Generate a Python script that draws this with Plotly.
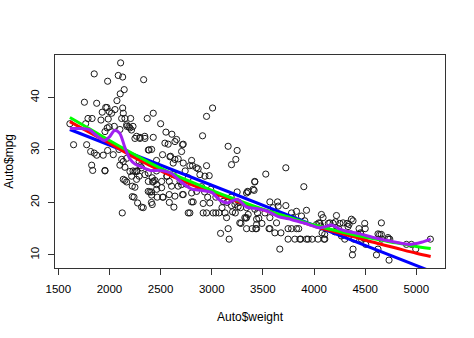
import plotly.graph_objects as go

# ---- scatter data (Auto$weight, Auto$mpg) ----
weight = [
    1613, 1649, 1755, 1767, 1777, 1790, 1830, 1816, 1851, 1875,
    1826, 1836, 1851, 1875, 1917, 1929, 1939, 1956, 1956, 1956,
    1963, 1975, 1982, 1988, 1982, 1978, 1998, 1998, 2021, 2037,
    2047, 2054, 2073, 2086, 2093, 2102, 2102, 2105, 2109, 2119,
    2119, 2125, 2129, 2129, 2135, 2135, 2135, 2144, 2151, 2151,
    2151, 2168, 2168, 2168, 2170, 2190, 2200, 2200, 2207, 2215,
    2217, 2223, 2223, 2230, 2249, 2249, 2249, 2265, 2265, 2268,
    2275, 2298, 2298, 2314, 2314, 2330, 2334, 2345, 2347, 2347,
    2369, 2379, 2379, 2380, 2387, 2395, 2412, 2412, 2412, 2418,
    2418, 2422, 2428, 2428, 2461, 2461, 2467, 2500, 2510, 2519,
    2525, 2542, 2552, 2563, 2574, 2584, 2591, 2607, 2610, 2623,
    2630, 2640, 2640, 2640, 2656, 2672, 2672, 2705, 2705, 2721,
    2721, 2721, 2770, 2770, 2786, 2786, 2803, 2803, 2803, 2818,
    2852, 2867, 2884, 2910, 2916, 2916, 2933, 2949, 2949, 2949,
    2975, 2981, 3008, 3014, 3040, 3086, 3111, 3145, 3160, 3160,
    3170, 3193, 3193, 3203, 3226, 3235, 3248, 3248, 3258, 3274,
    3281, 3323, 3340, 3340, 3340, 3340, 3350, 3356, 3395, 3414,
    3421, 3421, 3438, 3438, 3438, 3447, 3528, 3568, 3568, 3568,
    3617, 3633, 3643, 3649, 3665, 3676, 3724, 3724, 3746, 3746,
    3780, 3780, 3795, 3812, 3828, 3828, 3861, 3877, 3900, 3909,
    3926, 3926, 3981, 4024, 4039, 4046, 4066, 4072, 4078, 4088,
    4098, 4104, 4154, 4170, 4186, 4202, 4209, 4219, 4252, 4268,
    4284, 4300, 4323, 4332, 4342, 4365, 4375, 4381, 4381, 4430,
    4440, 4453, 4463, 4479, 4495, 4610, 4625, 4641, 4658, 4658,
    4723, 4733, 4740, 4903, 4952, 4994, 5137, 4725, 4625, 4660,
    2230, 2265, 2290, 2300, 2240, 2290, 2380, 2410, 2430, 2444,
    2460, 2460, 2510, 2520, 2560, 2585, 2585, 2597, 2623, 2690,
    2714, 2714, 2740, 2750, 2812, 2850, 2900, 2930, 2960, 2990,
    3040, 3070, 3100, 3130, 3150, 3190, 3230, 3265, 3285, 3333,
    3355, 3405, 3420, 3430, 3460, 3490, 3520, 3560, 3600, 3630,
    3850, 3870, 3942, 4056, 4105, 4140, 4240, 4360, 4390, 4505,
    4500, 4457,
]
mpg = [
    35.0, 31.0, 39.1, 35.0, 31.0, 36.0, 36.0, 29.7, 29.4, 29.0,
    27.1, 26.1, 44.5, 38.9, 35.7, 37.2, 29.0, 26.1, 26.0, 33.5,
    38.1, 38.1, 43.1, 35.9, 29.9, 34.2, 34.4, 37.3, 37.0, 29.1,
    34.5, 37.7, 39.4, 44.2, 30.1, 33.9, 27.1, 40.7, 46.6, 36.0,
    28.2, 18.0, 43.9, 38.0, 37.0, 27.8, 24.4, 41.5, 36.0, 26.7,
    24.2, 34.8, 28.4, 23.9, 34.5, 34.4, 34.2, 25.9, 36.0, 33.8,
    25.0, 23.1, 21.1, 34.5, 32.2, 25.9, 22.9, 32.6, 24.4, 25.9,
    19.9, 32.4, 32.2, 26.6, 19.1, 19.0, 43.4, 32.6, 32.2, 25.3,
    36.0, 25.6, 22.1, 30.0, 30.0, 22.0, 30.1, 21.4, 22.0, 24.7,
    19.6, 23.9, 37.0, 32.4, 22.5, 23.4, 21.0, 35.0, 22.8, 29.1,
    21.0, 31.3, 33.4, 25.0, 31.1, 21.5, 28.7, 23.1, 33.0, 27.5,
    19.1, 31.6, 28.2, 21.2, 32.0, 28.3, 23.1, 29.7, 23.4, 31.1,
    27.5, 21.5, 24.7, 18.0, 27.0, 18.0, 28.0, 21.8, 20.1, 20.1,
    22.1, 26.4, 25.3, 32.7, 19.8, 18.0, 25.0, 36.4, 27.0, 18.0,
    25.1, 19.9, 38.0, 18.0, 21.0, 14.1, 20.2, 17.1, 30.7, 15.0,
    13.0, 27.2, 19.4, 18.2, 19.6, 28.2, 29.9, 22.0, 19.2, 16.1,
    19.0, 17.1, 21.8, 19.0, 17.1, 15.0, 22.1, 17.7, 15.0, 22.3,
    23.9, 18.7, 16.8, 15.8, 15.0, 18.0, 25.4, 20.1, 17.1, 15.0,
    14.2, 16.1, 20.1, 19.3, 11.1, 14.2, 26.6, 19.4, 15.0, 13.0,
    18.0, 15.0, 17.1, 13.0, 18.3, 15.0, 13.0, 17.4, 23.0, 16.5,
    18.5, 13.0, 13.0, 15.8, 13.0, 16.1, 15.5, 17.7, 14.2, 17.1,
    13.0, 13.9, 16.1, 14.9, 16.0, 14.4, 16.3, 17.5, 16.0, 13.6,
    16.1, 13.0, 16.0, 15.4, 15.8, 16.8, 10.0, 16.5, 11.1, 13.9,
    15.0, 14.2, 13.0, 13.3, 16.0, 10.0, 11.1, 13.9, 16.1, 13.9,
    13.3, 9.0, 13.0, 12.0, 12.0, 11.1, 13.0, 13.0, 14.0, 13.0,
    26.0, 26.0, 27.8, 27.0, 21.0, 25.0, 24.0, 20.0, 24.0, 24.2,
    26.0, 28.0, 24.0, 21.0, 25.0, 24.0, 20.0, 28.8, 25.3, 24.0,
    31.0, 21.5, 26.0, 23.5, 27.0, 26.6, 23.0, 22.0, 21.0, 22.5,
    18.0, 18.0, 19.0, 18.0, 20.0, 21.0, 18.0, 20.0, 16.0, 17.0,
    22.0, 22.5, 24.0, 15.0, 17.0, 16.0, 18.0, 15.0, 19.0, 18.0,
    15.0, 13.0, 13.0, 16.0, 13.0, 16.0, 15.0, 14.0, 13.0, 12.0,
    15.0, 14.0,
]

# ---- fitted curves ----
lin_x = [1613, 5140]
lin_y = [33.9, 6.9]

fit_x = [1613, 1800, 2000, 2200, 2400, 2600, 2800, 3000, 3200, 3400,
         3600, 3800, 4000, 4200, 4400, 4600, 4800, 5000, 5140]
red_y = [35.4, 33.4, 31.3, 29.0, 27.0, 25.1, 23.4, 21.9, 20.5, 19.2,
         18.0, 16.8, 15.5, 14.4, 13.4, 12.3, 11.3, 10.3, 9.7]
green_y = [36.2, 34.1, 31.8, 29.6, 27.5, 25.6, 23.9, 22.3, 20.8, 19.4,
           18.1, 16.9, 15.7, 14.7, 13.8, 13.0, 12.3, 11.6, 11.2]

smooth_x = [1613, 1700, 1800, 1870, 1950, 2000, 2050, 2100, 2150, 2200,
            2250, 2300, 2400, 2500, 2600, 2700, 2800, 2900, 3000, 3080,
            3150, 3250, 3340, 3450, 3550, 3650, 3750, 3877, 3950, 4040,
            4100, 4170, 4250, 4300, 4450, 4577, 4700, 4800, 4935, 5050,
            5140]
smooth_y = [34.1, 34.1, 33.9, 32.8, 31.8, 32.5, 33.7, 33.2, 30.5, 28.3,
            27.3, 26.9, 26.1, 26.1, 25.6, 23.9, 22.6, 22.3, 21.9, 20.4,
            19.9, 20.6, 19.1, 18.8, 18.3, 17.3, 16.9, 16.2, 15.8, 15.2,
            15.3, 15.7, 14.9, 14.6, 14.0, 13.3, 12.8, 12.4, 12.0, 12.4,
            13.0]

x_ticks = [1500, 2000, 2500, 3000, 3500, 4000, 4500, 5000]
y_ticks = [10, 20, 30, 40]

FONT = "Liberation Sans, Arial, Helvetica, sans-serif"

fig = go.Figure()
fig.add_trace(go.Scatter(
    x=weight, y=mpg, mode="markers",
    marker=dict(symbol="circle-open", size=6.2, color="#1a1a1a",
                line=dict(width=1, color="#1a1a1a")),
    showlegend=False, hoverinfo="skip"))
fig.add_trace(go.Scatter(x=lin_x, y=lin_y, mode="lines",
                         line=dict(color="#0000ff", width=3), showlegend=False))
fig.add_trace(go.Scatter(x=fit_x, y=red_y, mode="lines",
                         line=dict(color="#ff0000", width=3, shape="spline"),
                         showlegend=False))
fig.add_trace(go.Scatter(x=fit_x, y=green_y, mode="lines",
                         line=dict(color="#00ff00", width=3, shape="spline"),
                         showlegend=False))
fig.add_trace(go.Scatter(x=smooth_x, y=smooth_y, mode="lines",
                         line=dict(color="#a020f0", width=3, shape="spline",
                                   smoothing=0.8),
                         showlegend=False))

axis_common = dict(showgrid=False, zeroline=False, showline=True, mirror=True,
                   linecolor="#333333", linewidth=1, ticks="outside",
                   ticklen=6, tickwidth=1, tickcolor="#333333",
                   tickfont=dict(family=FONT, size=11.5, color="#000000"))

fig.update_xaxes(range=[1467.5, 5280], tickvals=x_ticks,
                 ticktext=[str(v) for v in x_ticks], ticklabelstandoff=4,
                 **axis_common)
fig.update_yaxes(range=[7.5, 48.1], tickvals=y_ticks,
                 ticktext=[str(v) for v in y_ticks], tickangle=-90,
                 ticklabelstandoff=4, **axis_common)

fig.add_annotation(text="Auto$weight", xref="paper", yref="paper",
                   x=0.5, y=-0.23, xanchor="center", yanchor="middle",
                   showarrow=False, font=dict(family=FONT, size=12, color="#000"))
fig.add_annotation(text="Auto$mpg", xref="paper", yref="paper",
                   x=-0.12, y=0.5, xanchor="center", yanchor="middle",
                   textangle=-90, showarrow=False,
                   font=dict(family=FONT, size=12, color="#000"))

fig.update_layout(width=474, height=338,
                  margin=dict(l=55, r=29, t=55, b=70),
                  paper_bgcolor="white", plot_bgcolor="white",
                  font=dict(family=FONT, size=11, color="#000"))

fig.write_html("out.html")
